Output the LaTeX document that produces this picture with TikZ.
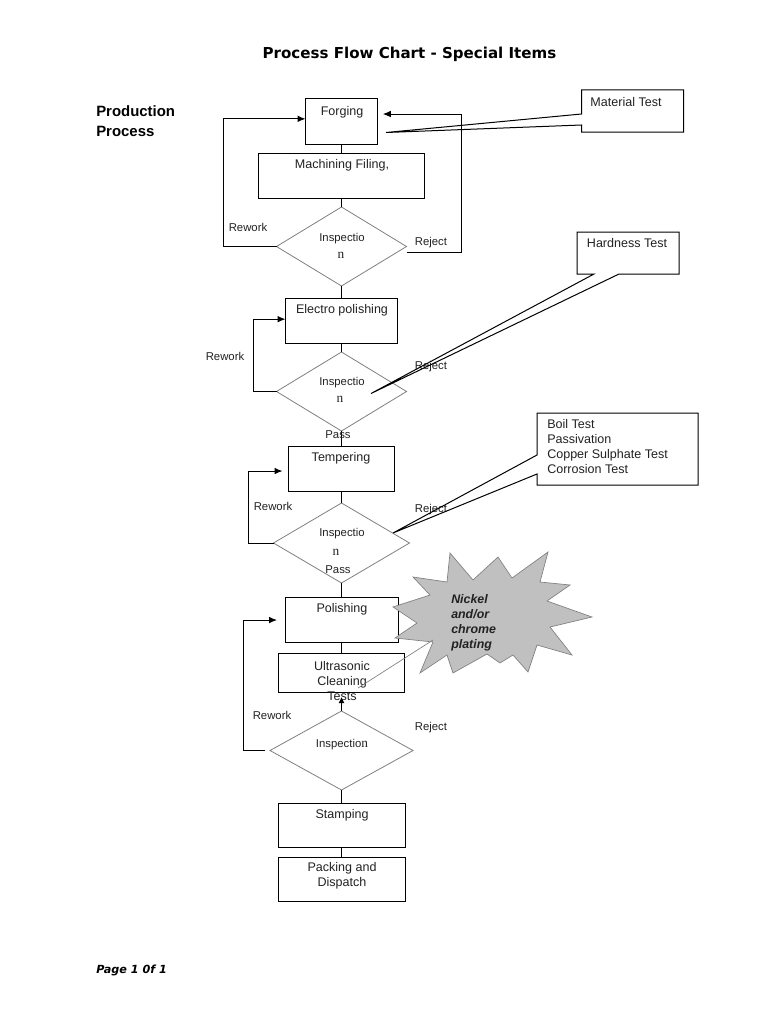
\documentclass[tikz,border=0pt]{standalone}
\usepackage{fontspec}
\setmainfont{Liberation Sans}
\newfontfamily\titlefont{DejaVu Sans}
\newfontfamily\serifn{Liberation Serif}
\usetikzlibrary{shapes.geometric,arrows.meta}
\definecolor{ink}{HTML}{222222}
\definecolor{dgray}{HTML}{808080}
\definecolor{burstfill}{HTML}{C0C0C0}
\tikzset{
  box/.style={draw=black, line width=0.75pt, rectangle, inner sep=0pt, outer sep=0pt},
  ghost/.style={rectangle, inner sep=0pt, outer sep=0pt},
  dia/.style={draw=dgray, diamond, inner sep=0pt, outer sep=0pt, line width=0.6pt},
  lbl/.style={font=\fontsize{8.5}{10}\selectfont, inner sep=0pt, text=ink},
  btxt/.style={font=\fontsize{9.4}{11.25}\selectfont, inner sep=0pt, align=center, text=ink},
  ntxt/.style={font=\serifn\fontsize{10}{12}\selectfont, inner sep=0pt, text=ink},
  conn/.style={line width=0.75pt, draw=black},
  arr/.style={conn, -{Latex[length=6pt,width=5pt]}},
  callout/.style={draw=black, line width=0.75pt, line join=miter}
}
\begin{document}
\begin{tikzpicture}[x=0.75pt,y=-0.75pt]
\useasboundingbox (0,0) rectangle (768,1024);
\fill[white] (0,0) rectangle (768,1024);

% Title and headings
\node[font=\titlefont\bfseries\fontsize{11.3}{13}\selectfont, inner sep=0pt] (title) at (409.5,54) {Process Flow Chart - Special Items};
\node[font=\bfseries\fontsize{11.2}{15.75}\selectfont, inner sep=0pt, anchor=west] (prod1) at (96,111) {Production};
\node[font=\bfseries\fontsize{11.2}{15.75}\selectfont, inner sep=0pt, anchor=west] (prod2) at (96,131) {Process};
\node[font=\titlefont\bfseries\itshape\fontsize{8.4}{10}\selectfont, inner sep=0pt, anchor=west] (page) at (96,970) {Page 1 0f 1};

% Main boxes
\node[box, minimum width=54pt, minimum height=34.5pt] (forging) at (341.5,121.5) {};
\node[btxt] (forgingT) at (342,112) {Forging};
\node[box, minimum width=124.5pt, minimum height=33.75pt] (mach) at (341.5,175.5) {};
\node[btxt] (machT) at (342,165.5) {Machining Filing,};
\node[box, minimum width=84pt, minimum height=33.75pt] (electro) at (341.5,320.5) {};
\node[btxt] (electroT) at (342,310.5) {Electro polishing};
\node[box, minimum width=79.5pt, minimum height=33.75pt] (temper) at (341.5,468.5) {};
\node[btxt] (temperT) at (341,458) {Tempering};
\node[box, minimum width=84.75pt, minimum height=33.75pt] (polish) at (341.5,619.5) {};
\node[btxt] (polishT) at (342,609) {Polishing};
\node[box, minimum width=94.5pt, minimum height=29.25pt] (ultra) at (341.5,672.5) {};
\node[btxt] (ultraT) at (342,681) {Ultrasonic\\Cleaning\\Tests};
\node[box, minimum width=95.25pt, minimum height=33pt] (stamp) at (341.5,825) {};
\node[btxt] (stampT) at (342,815) {Stamping};
\node[box, minimum width=95.25pt, minimum height=33pt] (pack) at (341.5,879) {};
\node[btxt] (packT) at (342,876) {Packing and\\Dispatch};

% Diamonds
\node[dia, minimum width=97.5pt, minimum height=59.25pt] (d1) at (341.5,246.5) {};
\node[lbl] (d1T) at (342,238.5) {Inspectio};
\node[ntxt] (d1n) at (341,255) {n};
\node[dia, minimum width=97.5pt, minimum height=59.25pt] (d2) at (341.5,391.5) {};
\node[lbl] (d2T) at (342,383) {Inspectio};
\node[ntxt] (d2n) at (340,399) {n};
\node[dia, minimum width=102pt, minimum height=60pt] (d3) at (341.5,543) {};
\node[lbl] (d3T) at (342,534) {Inspectio};
\node[ntxt] (d3n) at (336,552) {n};
\node[dia, minimum width=107.25pt, minimum height=59.25pt] (d4) at (341.5,750.5) {};
\node[lbl] (d4T) at (342,745) {Inspectio{\serifn\fontsize{10}{12}\selectfont n}};

% Vertical flow connectors
\draw[conn] (forging.south) -- (mach.north);
\draw[conn] (mach.south) -- (d1.north);
\draw[conn] (d1.south) -- (electro.north);
\draw[conn] (electro.south) -- (d2.north);
\draw[conn] (d2.south) -- (temper.north);
\draw[conn] (temper.south) -- (d3.north);
\draw[conn] (d3.south) -- (polish.north);
\draw[conn] (polish.south) -- (ultra.north);
\coordinate (utip) at (341.5,697);
\draw[conn, -{Latex[length=4.5pt,width=4.5pt]}] (d4.north) -- (utip);
\draw[conn] (d4.south) -- (stamp.north);
\draw[conn] (stamp.south) -- (pack.north);

% Labels on flow
\node[lbl] (pass2) at (338,435) {Pass};
\node[lbl] (pass3) at (338,570) {Pass};

% Rework loops
\draw[arr] (d1.west) -- ++(-53,0) |- ([yshift=2pt]forging.west);
\node[lbl] (rw1) at (248,227) {Rework};
\draw[arr] (d2.west) -- ++(-23,0) |- ([yshift=1pt]electro.west);
\node[lbl] (rw2) at (225,356) {Rework};
\draw[arr] (d3.west) -- ++(-25,0) |- ([xshift=-4.5pt,yshift=-1.9pt]temper.west);
\node[lbl] (rw3) at (273,506) {Rework};
\draw[arr] ([xshift=-4pt]d4.west) -- ++(-21,0) |- ([xshift=-6pt,yshift=-0.4pt]polish.west);
\node[lbl] (rw4) at (272,715) {Rework};

% Reject loop 1
\draw[arr] ([yshift=-4.5pt]d1.east) -- ++(55,0) |- ([xshift=4pt,yshift=5.6pt]forging.east);
\node[lbl] (rj1) at (431,243) {Reject};
\node[lbl] (rj2) at (431,367) {Reject};
\node[lbl] (rj3) at (431,510) {Reject};
\node[lbl] (rj4) at (431,728) {Reject};

% Material Test callout
\node[ghost, minimum width=76.5pt, minimum height=31.5pt] (mat) at (632.5,111) {};
\node[btxt] (matT) at (626,102) {Material Test};
\coordinate (mattip) at (386,132.5);
\draw[callout] (mat.north west) -- (mat.north east) -- (mat.south east) -- (mat.south west)
  -- ([yshift=-26.25pt]mat.north west) -- (mattip) -- ([yshift=-18pt]mat.north west) -- cycle;

% Hardness Test callout
\node[ghost, minimum width=76.5pt, minimum height=31.5pt] (hard) at (628,253) {};
\node[btxt] (hardT) at (627,243.5) {Hardness Test};
\coordinate (hardtip) at (371,393.5);
\draw[callout] (hard.north west) -- (hard.north east) -- (hard.south east)
  -- ([xshift=31.5pt]hard.south west) -- (hardtip) -- ([xshift=12.75pt]hard.south west) -- (hard.south west) -- cycle;

% Boil Test callout
\node[ghost, minimum width=120.75pt, minimum height=54pt] (boil) at (617.5,449) {};
\node[btxt, align=left, anchor=north west] (boilT) at (547,419.5) {Boil Test\\Passivation\\Copper Sulphate Test\\Corrosion Test};
\coordinate (boiltip) at (393,533);
\draw[callout] (boil.north west) -- (boil.north east) -- (boil.south east) -- (boil.south west)
  -- ([yshift=-45.75pt]boil.north west) -- (boiltip) -- ([yshift=-31.5pt]boil.north west) -- cycle;

% Starburst
\draw[fill=burstfill, draw=dgray, line width=0.5pt, line join=miter]
  (450,553) -- (473,580) -- (498,557) -- (512,578) -- (548,552) -- (540,582)
  -- (570,585) -- (547,601) -- (592,617) -- (550,627) -- (572,655) -- (537,645)
  -- (528,672) -- (513,655) -- (500,663) -- (487,654) -- (453,673) -- (447,655)
  -- (420,673) -- (433,642) -- (395,638) -- (417,623) -- (393,607) -- (430,595)
  -- (413,577) -- (447,582) -- cycle;
\node[font=\bfseries\itshape\fontsize{9.3}{11.25}\selectfont, inner sep=0pt, align=left, anchor=north west, text=ink] (nickel) at (451,594) {Nickel\\and/or\\chrome\\plating};
\coordinate (bpa) at (433,640);
\coordinate (bpb) at (358,688);
\draw[dgray, line width=0.5pt] (bpa) -- (bpb);
\end{tikzpicture}
\end{document}
